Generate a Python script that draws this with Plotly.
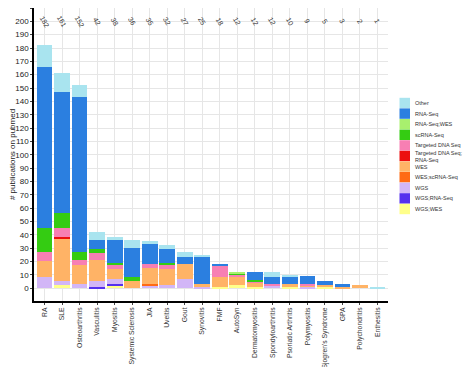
import plotly.graph_objects as go

categories = ["RA", "SLE", "Osteoarthritis", "Vasculitis", "Myositis", "Systemic Sclerosis",
              "JIA", "Uveitis", "Gout", "Synovitis", "FMF", "AutoSyn", "Dermatomyositis",
              "Spondyloarthritis", "Psoriatic Arthritis", "Polymyositis", "Sjogren's Syndrome",
              "GPA", "Polychondritis", "Enthesitis"]
totals = [182, 161, 152, 42, 38, 36, 35, 32, 27, 25, 18, 12, 12, 12, 10, 9, 5, 3, 2, 1]

# stacked from bottom to top
wgs_wes        = [0, 2, 0, 0, 2, 0, 0, 0, 0, 0, 1, 2, 1, 0, 1, 0, 1, 0, 0, 0]
wgs_rna        = [0, 0, 0, 1, 1, 0, 0, 0, 0, 0, 0, 0, 0, 0, 0, 0, 0, 0, 0, 0]
wgs            = [8, 3, 3, 4, 4, 0, 2, 2, 7, 1, 0, 0, 0, 2, 0, 1, 0, 0, 0, 0]
wes_scrna      = [0, 0, 0, 0, 0, 0, 1, 0, 0, 0, 0, 0, 0, 0, 0, 0, 0, 0, 0, 0]
wes            = [12, 32, 14, 16, 7, 5, 12, 12, 11, 2, 7, 6, 3, 0, 2, 1, 1, 1, 2, 0]
targeted_rna   = [0, 1, 0, 0, 0, 0, 0, 0, 0, 0, 0, 0, 0, 0, 0, 0, 0, 0, 0, 0]
targeted       = [7, 7, 4, 5, 4, 0, 3, 4, 0, 0, 9, 2, 1, 1, 0, 1, 0, 0, 0, 0]
scrna          = [18, 11, 6, 3, 1, 3, 0, 1, 0, 0, 0, 1, 1, 0, 0, 0, 0, 0, 0, 0]
rna_wes        = [0, 0, 0, 0, 0, 0, 0, 0, 0, 0, 0, 1, 0, 0, 0, 0, 0, 0, 0, 0]
rna_seq        = [121, 91, 116, 7, 17, 22, 15, 10, 5, 20, 1, 0, 6, 5, 6, 6, 3, 2, 0, 0]
other          = [16, 14, 9, 6, 2, 6, 2, 3, 4, 2, 0, 0, 0, 4, 1, 0, 0, 0, 0, 1]

series_names = ["Other", "RNA-Seq", "RNA-Seq;WES", "scRNA-Seq", "Targeted DNA Seq",
                "Targeted DNA Seq;RNA-Seq", "WES", "WES;scRNA-Seq", "WGS", "WGS;RNA-Seq", "WGS;WES"]
series_values = [other, rna_seq, rna_wes, scrna, targeted, targeted_rna, wes, wes_scrna,
                 wgs, wgs_rna, wgs_wes]
series_colors = ["#A9E4EF", "#2B7FE0", "#A8F06E", "#34CC12", "#F77FB3", "#EC1010",
                 "#FFB366", "#FF6A14", "#D2B6F7", "#5530EE", "#FFFF8A"]

W, H = 474, 367
ML, MR, MT, MB = 26, 94, 0, 74
PW, PH = W - ML - MR, H - MT - MB

fig = go.Figure()
for name, vals, col in reversed(list(zip(series_names, series_values, series_colors))):
    fig.add_trace(go.Bar(x=categories, y=vals, name=name, marker_color=col,
                         marker_line_width=0, width=0.9, showlegend=False))

for c, t in zip(categories, totals):
    fig.add_annotation(x=c, y=200, text=str(t), showarrow=False, textangle=60,
                       font=dict(size=7, color="#333"), yanchor="middle", xanchor="center")

# manual legend (paper coordinates derived from pixel layout)
def px_x(p):
    return (p - ML) / PW

def px_y(p):
    return (H - MB - p) / PH

for i, (name, col) in enumerate(zip(series_names, series_colors)):
    cy = 95 + i * 10.6
    label = name if len(name) < 20 else name.replace(";", ";<br>")
    fig.add_shape(type="rect", xref="paper", yref="paper",
                  x0=px_x(391.5), x1=px_x(402), y0=px_y(cy - 5.2), y1=px_y(cy + 5.2),
                  fillcolor=col, line_width=0)
    fig.add_annotation(xref="paper", yref="paper", x=px_x(405), y=px_y(cy), text=label,
                       showarrow=False, xanchor="left", yanchor="middle", align="left",
                       font=dict(size=5.5, color="#333"))

fig.update_layout(
    barmode="stack",
    width=W, height=H,
    margin=dict(l=ML, r=MR, t=MT, b=MB),
    paper_bgcolor="white", plot_bgcolor="white",
    font=dict(family="Liberation Sans, Arial, sans-serif", size=8, color="#222"),
    showlegend=False,
)
fig.update_xaxes(range=[-0.6, 19.6], tickangle=-90, showline=True, linecolor="black",
                 linewidth=1.5, showgrid=True, gridcolor="#e6e6e6", ticks="outside",
                 ticklen=2, tickcolor="#444", tickwidth=0.8,
                 tickfont=dict(size=6.8, color="#333"), zeroline=False)
fig.update_yaxes(range=[-9.7, 210], dtick=10, tick0=0, showline=True, linecolor="black",
                 linewidth=1.5, showgrid=True, gridcolor="#e6e6e6", zeroline=False,
                 ticks="outside", ticklen=2, tickcolor="#444", tickwidth=0.8,
                 tickfont=dict(size=8, color="#222"),
                 title=dict(text="# publications on pubmed", font=dict(size=8), standoff=1))

fig.write_html("out.html")
